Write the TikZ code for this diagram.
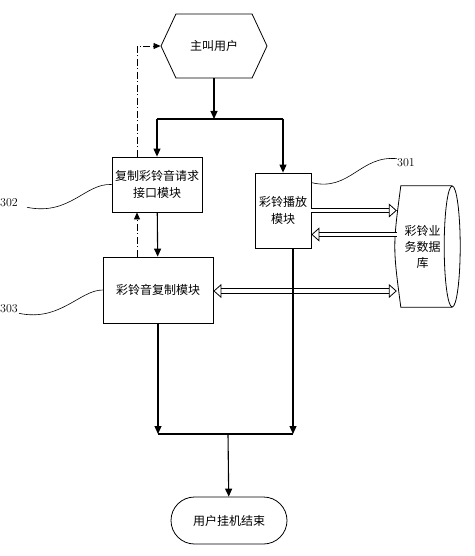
\documentclass[tikz,border=0pt]{standalone}
\usepackage{fontspec}
\newfontfamily\cjk{Noto Sans CJK SC}
\usepackage{tikz}
\usetikzlibrary{arrows.meta, shapes.symbols, shapes.misc}
\tikzset{
Module/.style={
	draw, rectangle,
	line width=0.8pt,
	align=center,
	inner sep=2pt,
	font=\cjk\fontsize{12}{17}\selectfont
},
Caller/.style={
	Module,
	shape=signal,
	signal to=west and east,
	signal pointer angle=130
},
Terminal/.style={
	Module,
	shape=rounded rectangle
},
Store/.style={
	minimum width=63pt,
	minimum height=121pt,
	inner sep=0pt
},
Edge/.style={
	draw=black,
	line width=1.1pt
},
Flow/.style={
	Edge,
	-{Triangle[length=8pt, width=7pt]}
},
Feedback/.style={
	draw=black,
	line width=0.8pt,
	dash pattern=on 7pt off 2.5pt on 1pt off 2.5pt,
	-{Triangle[length=7pt, width=6pt]}
},
DataLink/.style={
	draw=black,
	double, double distance=3.5pt,
	line width=0.8pt,
	-{Triangle[open, length=8pt, width=14pt]}
},
Leader/.style={
	draw=black,
	line width=0.6pt
},
Tag/.style={
	inner sep=0pt,
	font=\fontsize{12}{14}\selectfont
}
}

\begin{document}
\begin{tikzpicture}[x=1pt, y=-1pt]
	\useasboundingbox (0,0) rectangle (474,556);

	\node[Caller, minimum width=106pt, minimum height=64pt] (start) at (214,46) {主叫用户};
	\node[Module, minimum width=90pt, minimum height=55pt] (b302) at (157,184.5) {复制彩铃音请求\\接口模块};
	\node[Module, minimum width=56pt, minimum height=75pt] (b301) at (283,210.5) {彩铃播放\\模块};
	\node[Module, minimum width=110pt, minimum height=66pt] (b303) at (158,290) {彩铃音复制模块};
	\node[Terminal, minimum width=120pt, minimum height=47pt] (stop) at (229,520.5) {用户挂机结束};
	\node[Store, label={[xshift=-6pt, align=center, font=\cjk\fontsize{12}{16}\selectfont]center:彩铃业\\务数据\\库}] (db) at (428.5,246.5) {};

	\node[Tag] (l301) at (406,163) {301};
	\node[Tag] (l302) at (9,203) {302};
	\node[Tag] (l303) at (9,309) {303};

	\coordinate (split) at (214,119);
	\coordinate (merge) at (228,434);
	\coordinate (copylink) at (305,291);

	\draw[Module] ([xshift=-8pt]db.north east) -- ([xshift=4pt]db.north west) .. controls ([xshift=-4pt]db.west) .. ([xshift=4pt]db.south west) -- ([xshift=-8pt]db.south east);
	\draw[Module] ([xshift=-8pt]db.east) ellipse [x radius=8pt, y radius=60.5pt];

	\draw[Flow] (start) -- (split);
	\draw[Edge] (b302.north |- split) -- (b301.north |- split);
	\draw[Flow] (b302.north |- split) -- (b302);
	\draw[Flow] (b301.north |- split) -- (b301);
	\draw[Flow] (b302) -- (b303);

	\draw[Feedback] ([xshift=-21pt]b303.north) -- ([xshift=-21pt]b303.north |- b302.south);
	\draw[Feedback] ([xshift=-20pt]b302.north) |- (start.west);

	\draw[DataLink] (b301.east) -- (b301.east -| db.west);
	\draw[DataLink] ([yshift=-24pt]b301.east -| db.west) -- ([yshift=-24pt]b301.east);
	\draw[DataLink] (copylink) -- (copylink -| b303.east);
	\draw[DataLink] (copylink) -- (copylink -| db.west);

	\draw[Flow] (b303) -- (b303.south |- merge);
	\draw[Flow] ([xshift=10pt]b301.south) -- ([xshift=10pt]b301.south |- merge);
	\draw[Edge] (b303.south |- merge) -- ([xshift=10pt]b301.south |- merge);
	\draw[Flow] (merge) -- (stop);

	\draw[Leader] ([yshift=-10pt]b301.north east) .. controls (350,192) and (360,155) .. (l301.north west);
	\draw[Leader] ([xshift=9pt]l302.south east) .. controls (70,216) and (85,183) .. (b302.west);
	\draw[Leader] ([xshift=1pt]l303.south east) .. controls (60,322) and (80,290) .. (b303.west);
\end{tikzpicture}
\end{document}
